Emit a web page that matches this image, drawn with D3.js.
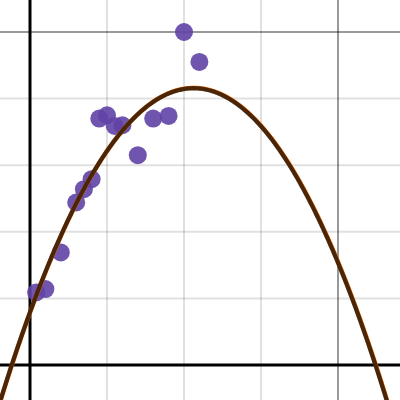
<!DOCTYPE html>
<html>
<head>
<meta charset="utf-8">
<script src="https://cdn.jsdelivr.net/npm/d3@7"></script>
<style>
html,body{margin:0;padding:0;background:#fff;}
svg{display:block;}
</style>
</head>
<body>
<svg id="chart" width="400" height="400"></svg>
<script>
// Data
const xValues = [0.04, 0.1, 0.2, 0.3, 0.35, 0.4, 0.45, 0.5, 0.55, 0.6, 0.7, 0.8, 0.9, 1.0, 1.1];
const yValues = [1.09, 1.14, 1.69, 2.44, 2.64, 2.79, 3.70, 3.75, 3.59, 3.60, 3.15, 3.70, 3.74, 5.0, 4.55];
// Quadratic fit y = a x^2 + b x + c
const fitCoefficients = [-2.98, 6.33, 0.794];
const minorXTicks = [0.5, 1, 1.5];
const majorXTicks = [2];
const minorYTicks = [1, 2, 3, 4];
const majorYTicks = [5];

const W = 400, H = 400;
const x = d3.scaleLinear().domain([-30/154, 370/154]).range([0, W]);
const y = d3.scaleLinear().domain([-35/66.6, 365/66.6]).range([H, 0]);

const svg = d3.select("#chart");

// minor grid
svg.append("g").selectAll("line").data(minorXTicks).join("line")
  .attr("x1", d => x(d)).attr("x2", d => x(d)).attr("y1", 0).attr("y2", H)
  .attr("stroke", "#000").attr("stroke-opacity", 0.12).attr("stroke-width", 2);
svg.append("g").selectAll("line").data(minorYTicks).join("line")
  .attr("y1", d => y(d)).attr("y2", d => y(d)).attr("x1", 0).attr("x2", W)
  .attr("stroke", "#000").attr("stroke-opacity", 0.12).attr("stroke-width", 2);
// major grid
svg.append("g").selectAll("line").data(majorXTicks).join("line")
  .attr("x1", d => x(d)).attr("x2", d => x(d)).attr("y1", 0).attr("y2", H)
  .attr("stroke", "#000").attr("stroke-opacity", 0.4).attr("stroke-width", 2);
svg.append("g").selectAll("line").data(majorYTicks).join("line")
  .attr("y1", d => y(d)).attr("y2", d => y(d)).attr("x1", 0).attr("x2", W)
  .attr("stroke", "#000").attr("stroke-opacity", 0.4).attr("stroke-width", 2);

// axes
svg.append("line").attr("x1", x(0)).attr("x2", x(0)).attr("y1", 0).attr("y2", H)
  .attr("stroke", "#000").attr("stroke-width", 3);
svg.append("line").attr("y1", y(0)).attr("y2", y(0)).attr("x1", 0).attr("x2", W)
  .attr("stroke", "#000").attr("stroke-width", 3);

// points
const pts = xValues.map((v, i) => ({x: v, y: yValues[i]}));
svg.append("g").selectAll("circle").data(pts).join("circle")
  .attr("cx", d => x(d.x)).attr("cy", d => y(d.y)).attr("r", 9)
  .attr("fill", "#6042a6").attr("fill-opacity", 0.9);

// curve
const f = t => fitCoefficients[0]*t*t + fitCoefficients[1]*t + fitCoefficients[2];
const samples = d3.range(0, 401, 1).map(px => { const t = x.invert(px); return {x: t, y: f(t)}; });
const line = d3.line().x(d => x(d.x)).y(d => y(d.y));
svg.append("path").datum(samples).attr("d", line)
  .attr("transform", "translate(0.3,-0.3)")
  .attr("fill", "none").attr("stroke", "#fa7e19").attr("stroke-width", 4.5);
svg.append("path").datum(samples).attr("d", line)
  .attr("fill", "none").attr("stroke", "#000").attr("stroke-opacity", 0.7).attr("stroke-width", 4.3);
</script>
</body>
</html>
